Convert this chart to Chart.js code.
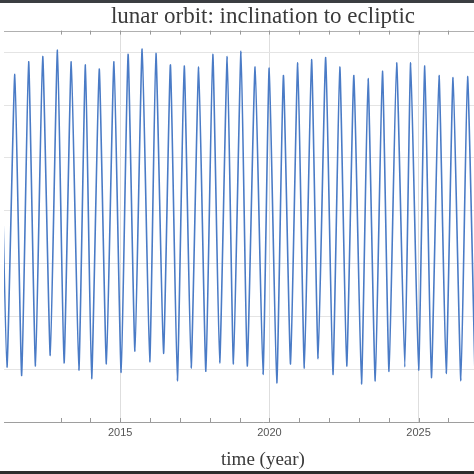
<!DOCTYPE html>
<html>
<head>
<meta charset="utf-8">
<script src="https://cdn.jsdelivr.net/npm/chart.js@4.4.1/dist/chart.umd.min.js"></script>
<style>
  html, body { margin: 0; padding: 0; background: #fff; overflow: hidden; }
  #wrap {
    width: 474px; height: 474px; box-sizing: border-box; overflow: hidden;
    border-top: 3px solid #3b3e41; border-bottom: 3px solid #2d2d2d;
  }
</style>
</head>
<body>
<div id="wrap">
  <canvas id="lunarChart" width="526" height="468"></canvas>
</div>
<script>
var TITLE = 'lunar orbit: inclination to ecliptic';
var X_TITLE = 'time (year)';

// maxima of the inclination (year, degrees)
var peakYears = [2010.97, 2011.469, 2011.931, 2012.403, 2012.898, 2013.360, 2013.835, 2014.297, 2014.792,
    2015.264, 2015.736, 2016.198, 2016.684, 2017.146, 2017.631, 2018.103, 2018.588, 2019.050,
    2019.522, 2019.994, 2020.469, 2020.951, 2021.413, 2021.888, 2022.360, 2022.832, 2023.307,
    2023.789, 2024.264, 2024.736, 2025.208, 2025.684, 2026.156, 2026.641];
var peakValues = [5.285, 5.279, 5.291, 5.296, 5.302, 5.291, 5.288, 5.284, 5.291,
    5.298, 5.303, 5.299, 5.288, 5.287, 5.286, 5.298, 5.296, 5.301,
    5.286, 5.285, 5.278, 5.290, 5.293, 5.295, 5.286, 5.278, 5.275,
    5.282, 5.290, 5.290, 5.287, 5.278, 5.276, 5.277];

// minima
var troughYears = [2011.205, 2011.700, 2012.162, 2012.657, 2013.119, 2013.614, 2014.043, 2014.538,
    2015.033, 2015.495, 2015.990, 2016.452, 2016.915, 2017.377, 2017.872, 2018.334, 2018.796,
    2019.258, 2019.786, 2020.248, 2020.710, 2021.172, 2021.634, 2022.129, 2022.591, 2023.086,
    2023.548, 2024.010, 2024.538, 2025.000, 2025.429, 2025.924, 2026.419, 2026.89];
var troughValues = [5.002, 4.994, 5.003, 5.013, 5.006, 4.999, 4.991, 5.005,
    4.997, 5.017, 5.007, 5.015, 4.989, 5.001, 4.998, 5.006, 5.005,
    5.003, 4.995, 4.987, 5.005, 5.001, 5.010, 4.995, 5.003, 4.986,
    4.989, 4.998, 5.002, 4.999, 4.992, 4.996, 4.989, 4.995];

var X_MIN = 2011.106, X_MAX = 2028.466;
var Y_MIN = 4.95, Y_MAX = 5.3205;

var points = [];
peakYears.forEach(function (t, i) { points.push({ x: t, y: peakValues[i] }); });
troughYears.forEach(function (t, i) { points.push({ x: t, y: troughValues[i] }); });
points.sort(function (a, b) { return a.x - b.x; });

function isWhole(v, step) {
    var k = v / step;
    return Math.abs(k - Math.round(k)) < 1e-6;
}

// small inward tick marks on the bottom axis and the top frame line
var frame = {
    id: 'frame',
    afterDraw: function (chart) {
        var ctx = chart.ctx, a = chart.chartArea, x = chart.scales.x;
        ctx.save();
        ctx.strokeStyle = '#b0b0b0';
        ctx.lineWidth = 1;
        ctx.beginPath();
        ctx.moveTo(a.left, Math.round(a.top) + 0.5);
        ctx.lineTo(a.right, Math.round(a.top) + 0.5);
        ctx.stroke();
        ctx.strokeStyle = '#999';
        ctx.beginPath();
        x.ticks.forEach(function (t) {
            if (!isWhole(t.value, 1)) return;
            var px = Math.round(x.getPixelForValue(t.value)) + 0.5;
            ctx.moveTo(px, a.top);
            ctx.lineTo(px, a.top + 4);
            ctx.moveTo(px, a.bottom);
            ctx.lineTo(px, a.bottom - 4);
        });
        ctx.stroke();
        ctx.restore();
    }
};

var serif = '"Liberation Serif", "Times New Roman", serif';
var sans = '"Liberation Sans", Arial, sans-serif';

var ctx = document.getElementById('lunarChart').getContext('2d');
window.lunarChart = new Chart(ctx, {
    type: 'line',
    data: {
        datasets: [{
            data: points,
            borderColor: '#4a7bc6',
            borderWidth: 1.6,
            pointRadius: 0,
            tension: 0.15,
            fill: false
        }]
    },
    options: {
        responsive: false,
        animation: false,
        layout: { padding: 0 },
        plugins: {
            legend: { display: false },
            tooltip: { enabled: false },
            title: {
                display: true,
                text: TITLE,
                color: '#3a3a3a',
                font: { family: serif, size: 23, weight: 'normal' },
                padding: { top: 0, bottom: 0 }
            }
        },
        scales: {
            x: {
                type: 'linear',
                min: X_MIN,
                max: X_MAX,
                border: { color: '#9e9e9e' },
                grid: {
                    drawTicks: false,
                    color: function (c) {
                        return c.tick && isWhole(c.tick.value, 5) ? '#dedede' : 'rgba(0,0,0,0)';
                    }
                },
                ticks: {
                    stepSize: 1,
                    autoSkip: false,
                    maxRotation: 0,
                    padding: 4,
                    color: '#555',
                    font: { family: sans, size: 11 },
                    callback: function (v) { return isWhole(v, 5) ? String(Math.round(v)) : ''; }
                },
                title: {
                    display: true,
                    text: X_TITLE,
                    color: '#3a3a3a',
                    font: { family: serif, size: 19, weight: 'normal' },
                    padding: { top: 5, bottom: 0 }
                }
            },
            y: {
                min: Y_MIN,
                max: Y_MAX,
                border: { display: false },
                grid: {
                    drawTicks: false,
                    color: function (c) {
                        return c.tick && isWhole(c.tick.value, 0.05) ? '#e4e4e4' : 'rgba(0,0,0,0)';
                    }
                },
                ticks: { display: false, stepSize: 0.05 },
                afterFit: function (s) { s.width = 0; }
            }
        }
    },
    plugins: [frame]
});
</script>
</body>
</html>
